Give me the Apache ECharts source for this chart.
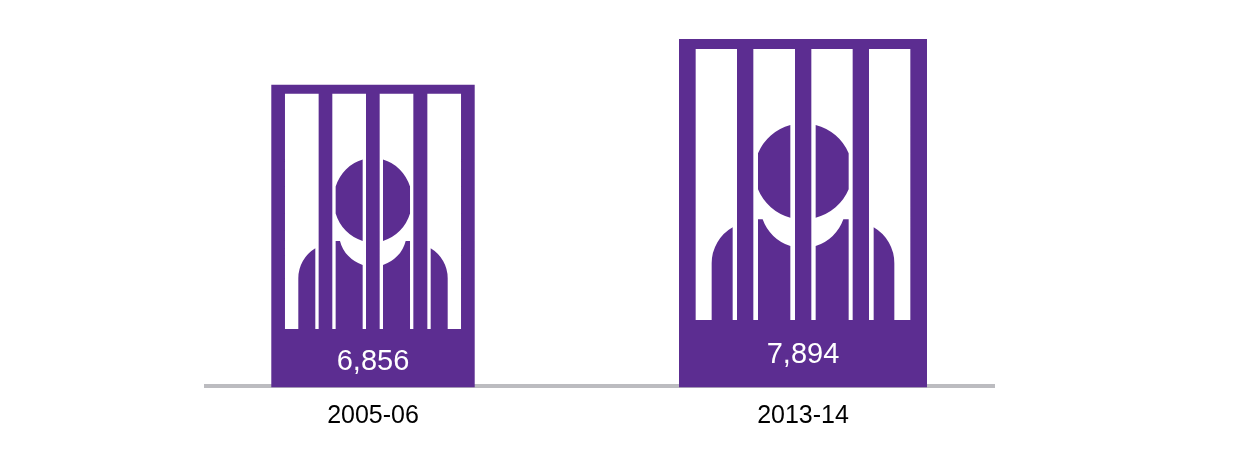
<!DOCTYPE html>
<html>
<head>
<meta charset="utf-8">
<style>
  html, body { margin: 0; padding: 0; background: #fff; }
  #container { width: 1240px; height: 465px; }
</style>
</head>
<body>
<div id="container"></div>
<script src="https://cdn.jsdelivr.net/npm/echarts@6/dist/echarts.min.js"></script>
<script>
var categories = ['2005-06', '2013-14'];
var values = [6856, 7894];

var PURPLE = '#5c2d91';
var GREY = '#bcbcc0';
var FONT = '"Liberation Sans", Arial, sans-serif';

// prisoner behind bars, outer rim first, then the windows (wound the other way) and what shows in them
var cellSmall = 'path://M34 30H644V937H34Z' +
    'M75 57V762H176V57Z M217 57V762H318V57Z M359 57V762H460V57Z M502 57V762H603V57Z' +
    'M115 762V610A105 105 0 0 1 166 520V762Z' +
    'M308 254V498A117 124 0 0 1 227 416V335A117 124 0 0 1 308 254Z' +
    'M227 762V498H240A101 101 0 0 0 308 570V762Z' +
    'M369 254A117 124 0 0 1 450 335V416A117 124 0 0 1 369 498Z' +
    'M369 570A101 101 0 0 0 437 498H450V762H369Z' +
    'M512 520A105 105 0 0 1 563 610V762H512Z';

var cellLarge = 'path://M27 27H771V1072H27Z' +
    'M77 57V870H201V57Z M250 57V870H375V57Z M424 57V870H548V57Z M597 57V870H721V57Z' +
    'M125 870V700A124 124 0 0 1 188 592V870Z' +
    'M361 285V563A147 144 0 0 1 264 478V370A147 144 0 0 1 361 285Z' +
    'M264 870V568H278A128 128 0 0 0 361 648V870Z' +
    'M437 285A147 144 0 0 1 536 370V478A147 144 0 0 1 437 563Z' +
    'M437 648A128 128 0 0 0 520 568H536V870H437Z' +
    'M611 592A124 124 0 0 1 673 700V870H611Z';

var symbols = [cellSmall, cellLarge];
var symbolWidths = [203.4, 248];
var labelDistances = [11, 18];

var dom = document.getElementById('container');
var myChart = echarts.init(dom, null, { renderer: 'canvas' });

var option = {
    backgroundColor: '#ffffff',
    animation: false,
    grid: [
        { left: 158, width: 860, top: 34.3, bottom: 77.7 },
        { left: 204, width: 791, top: 34.3, bottom: 79 }
    ],
    xAxis: [
        {
            type: 'category',
            gridIndex: 0,
            data: categories,
            axisLine: { show: false },
            axisTick: { show: false },
            axisLabel: { color: '#000', fontFamily: FONT, fontSize: 25, margin: 16 }
        },
        {
            // the grey floor is wider than the category bands
            type: 'category',
            gridIndex: 1,
            data: [''],
            axisLine: { lineStyle: { color: GREY, width: 4, cap: 'butt' } },
            axisTick: { show: false },
            axisLabel: { show: false }
        }
    ],
    yAxis: [
        { type: 'value', gridIndex: 0, min: 0, max: 8000, show: false },
        { type: 'value', gridIndex: 1, show: false }
    ],
    series: [
        {
            type: 'pictorialBar',
            xAxisIndex: 0,
            yAxisIndex: 0,
            z: 5,
            symbolPosition: 'start',
            itemStyle: { color: PURPLE },
            data: values.map(function (v, i) {
                return {
                    value: v,
                    symbol: symbols[i],
                    symbolSize: [symbolWidths[i], '100%'],
                    label: {
                        show: true,
                        position: 'insideBottom',
                        distance: labelDistances[i],
                        color: '#fff',
                        fontFamily: FONT,
                        fontSize: 29,
                        formatter: function (p) {
                            return p.value.toLocaleString('en-US');
                        }
                    }
                };
            })
        }
    ]
};

if (option && typeof option === 'object') {
    myChart.setOption(option, true);
}
</script>
</body>
</html>
